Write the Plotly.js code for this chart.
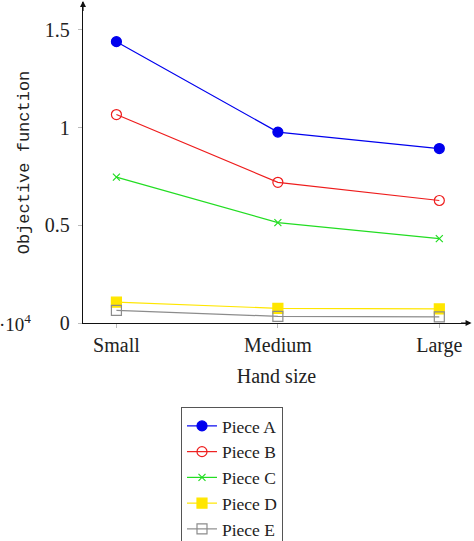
<!DOCTYPE html>
<html>
<head>
<meta charset="utf-8">
<script src="https://cdn.plot.ly/plotly-3.0.1.min.js"></script>
<style>
  html, body { margin: 0; padding: 0; background: #fff; }
  #chart { width: 474px; height: 541px; }
</style>
</head>
<body>
<div id="chart"></div>
<script>
// Hand sizes on the x axis
const handSizes = ['Small', 'Medium', 'Large'];

// Objective function values (units of 10^4) for each piece
const pieceA = [1.440, 0.977, 0.893];
const pieceB = [1.067, 0.720, 0.627];
const pieceC = [0.747, 0.514, 0.432];
const pieceD = [0.107, 0.075, 0.072];
const pieceE = [0.065, 0.034, 0.031];

const yTickVals = [0, 0.5, 1, 1.5];
const yTickText = ['0', '0.5', '1', '1.5'];

const serif = 'Liberation Serif';
const mono = 'Liberation Mono';

function series(name, y, color, symbol, size) {
  return {
    type: 'scatter',
    mode: 'lines+markers',
    name: name,
    x: handSizes,
    y: y,
    line: { color: color, width: 1.2 },
    marker: {
      color: color,
      symbol: symbol,
      size: size,
      line: { color: color, width: 1.2 }
    }
  };
}

const data = [
  series('Piece A', pieceA, '#0000ee', 'circle', 10),
  series('Piece B', pieceB, '#ee1c1c', 'circle-open', 10),
  series('Piece C', pieceC, '#22dd22', 'x-thin-open', 7),
  series('Piece D', pieceD, '#ffe600', 'square', 10),
  series('Piece E', pieceE, '#8c8c8c', 'square-open', 10)
];

const layout = {
  width: 474,
  height: 541,
  margin: { l: 83, r: 4, t: 2, b: 218, autoexpand: false },
  paper_bgcolor: '#ffffff',
  plot_bgcolor: '#ffffff',
  showlegend: true,
  font: { family: serif, size: 20, color: '#222' },
  xaxis: {
    type: 'category',
    range: [-0.207, 2.19],
    showgrid: false,
    zeroline: false,
    showline: true,
    linecolor: '#111',
    linewidth: 1.2,
    ticks: 'outside',
    ticklen: 4,
    tickcolor: '#bbb',
    tickfont: { family: serif, size: 20, color: '#222' },
    title: { text: 'Hand size', font: { family: serif, size: 20, color: '#222' }, standoff: 12 },
    fixedrange: true
  },
  yaxis: {
    range: [0, 1.643],
    tickvals: yTickVals,
    ticktext: yTickText,
    showgrid: false,
    zeroline: false,
    showline: true,
    linecolor: '#111',
    linewidth: 1.2,
    ticks: 'outside',
    ticklen: 4,
    tickcolor: '#bbb',
    ticklabelstandoff: 4,
    tickfont: { family: serif, size: 20, color: '#222' },
    title: { text: 'Objective function', font: { family: mono, size: 17, color: '#222' }, standoff: 10 },
    fixedrange: true
  },
  legend: {
    x: 0.385,
    xanchor: 'center',
    y: -0.2617,
    yanchor: 'top',
    bgcolor: '#ffffff',
    bordercolor: '#555',
    borderwidth: 1,
    font: { family: serif, size: 17.5, color: '#222' },
    tracegroupgap: 0
  },
  annotations: [
    {
      // arrow tip on the x axis
      xref: 'paper', yref: 'paper', x: 1.004, y: 0,
      ax: -12, ay: 0, text: '', showarrow: true,
      arrowhead: 2, arrowsize: 1, arrowwidth: 1.2, arrowcolor: '#111'
    },
    {
      // arrow tip on the y axis
      xref: 'paper', yref: 'paper', x: 0, y: 1.005,
      ax: 0, ay: 12, text: '', showarrow: true,
      arrowhead: 2, arrowsize: 1, arrowwidth: 1.2, arrowcolor: '#111'
    },
    {
      // scale factor of the y axis
      xref: 'paper', yref: 'paper', x: -0.128, y: 0,
      xanchor: 'right', yanchor: 'middle',
      text: '·10<sup>4</sup>', showarrow: false,
      font: { family: serif, size: 19, color: '#222' }
    }
  ]
};

Plotly.newPlot('chart', data, layout, { displayModeBar: false, staticPlot: true });
</script>
</body>
</html>
